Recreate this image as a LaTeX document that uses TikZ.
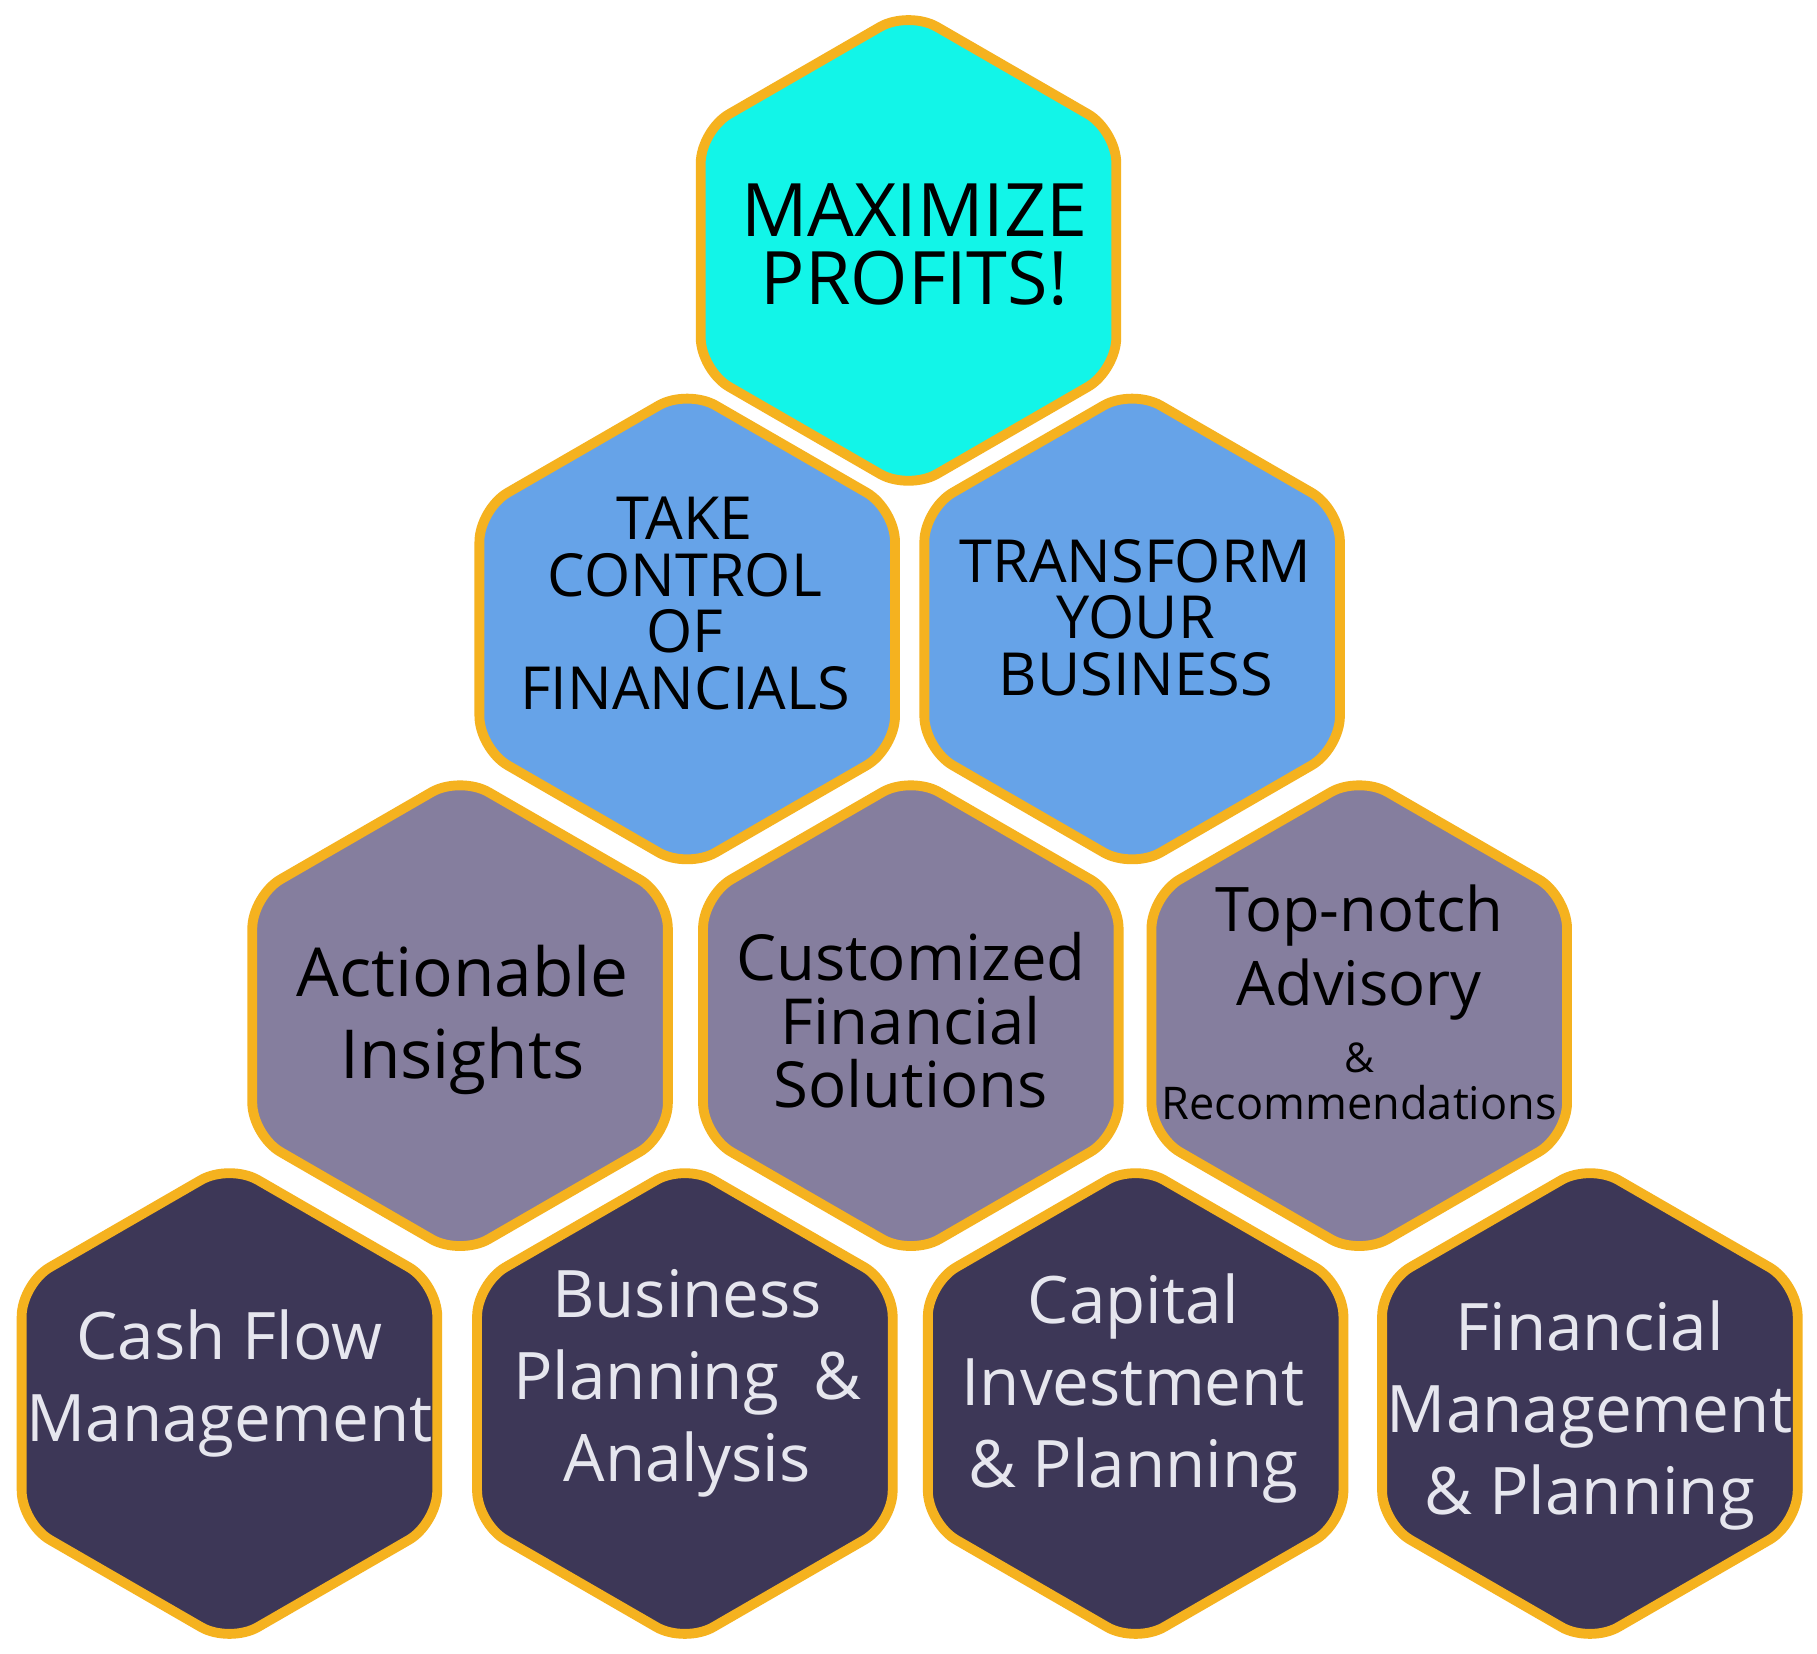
\documentclass[tikz,border=0pt]{standalone}
\usepackage{fontspec}
\setmainfont{Open Sans}
\definecolor{hcyan}{HTML}{12F5E8}
\definecolor{hblue}{HTML}{66A3E8}
\definecolor{hgrey}{HTML}{857E9E}
\definecolor{hdark}{HTML}{3D3757}
\definecolor{horange}{HTML}{F5B21F}
\definecolor{hlight}{HTML}{E6E6EE}
\newcommand\hexcell[3]{%
  \draw[hexline,fill=#3] ([shift={(90:206)}]#1,#2)
    -- ([shift={(150:206)}]#1,#2) -- ([shift={(210:206)}]#1,#2)
    -- ([shift={(270:206)}]#1,#2) -- ([shift={(330:206)}]#1,#2)
    -- ([shift={(30:206)}]#1,#2) -- cycle;}
\begin{document}
\begin{tikzpicture}[x=0.01cm,y=-0.01cm,
  hexline/.style={draw=horange,line width=2.4pt,rounded corners=8pt},
  lbl/.style={align=center,inner sep=0pt}]
\useasboundingbox[fill=white] (0,0) rectangle (1560,1420);
\hexcell{780}{215}{hcyan}
\hexcell{590}{540}{hblue}
\hexcell{972}{540}{hblue}
\hexcell{395}{872}{hgrey}
\hexcell{782}{872}{hgrey}
\hexcell{1167}{872}{hgrey}
\hexcell{197}{1205}{hdark}
\hexcell{588}{1205}{hdark}
\hexcell{975}{1205}{hdark}
\hexcell{1365}{1205}{hdark}
\node[lbl,font=\fontsize{18}{16.5}\selectfont] (p) at (785,210) {MAXIMIZE\\PROFITS!};
\node[lbl,font=\fontsize{14.5}{13.8}\selectfont] (t1) at (588,518) {TAKE\\CONTROL\\OF\\FINANCIALS};
\node[lbl,font=\fontsize{14.5}{13.8}\selectfont] (t2) at (975,530) {TRANSFORM\\YOUR\\BUSINESS};
\node[lbl,font=\fontsize{16.5}{20}\selectfont] (m1) at (397,876) {Actionable\\Insights};
\node[lbl,font=\fontsize{15.5}{15.5}\selectfont] (m2) at (782,876) {Customized\\Financial\\Solutions};
\node[lbl,font=\fontsize{15}{18}\selectfont] (m3a) at (1167,818) {Top-notch\\Advisory};
\node[lbl,font=\fontsize{10}{10}\selectfont] (m3b) at (1167,908) {\&};
\node[lbl,font=\fontsize{11}{11}\selectfont] (m3c) at (1167,947) {Recommendations};
\node[lbl,text=hlight,font=\fontsize{16}{20}\selectfont] (b1) at (197,1188) {Cash Flow\\Management};
\node[lbl,text=hlight,font=\fontsize{16}{20}\selectfont] (b2) at (590,1188) {Business\\Planning \ \&\\Analysis};
\node[lbl,text=hlight,font=\fontsize{16}{20}\selectfont] (b3) at (973,1192) {Capital\\Investment\\\& Planning};
\node[lbl,text=hlight,font=\fontsize{16}{20}\selectfont] (b4) at (1365,1215) {Financial\\Management\\\& Planning};
\end{tikzpicture}
\end{document}
